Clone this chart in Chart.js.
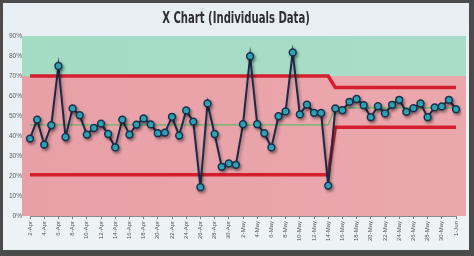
<!DOCTYPE html>
<html>
<head>
<meta charset="utf-8">
<script src="https://cdn.jsdelivr.net/npm/chart.js@4.4.1/dist/chart.umd.min.js"></script>
<style>
  html, body { margin: 0; padding: 0; background: #4a4a4a; }
  #wrap { width: 474px; height: 256px; position: relative; }
  canvas { display: block; }
</style>
</head>
<body>
<div id="wrap"><canvas id="c" width="474" height="256"></canvas></div>
<script>
// ---- data ----
const dates = [
  "2-Apr","3-Apr","4-Apr","5-Apr","6-Apr","7-Apr","8-Apr","9-Apr","10-Apr","11-Apr",
  "12-Apr","13-Apr","14-Apr","15-Apr","16-Apr","17-Apr","18-Apr","19-Apr","20-Apr","21-Apr",
  "22-Apr","23-Apr","24-Apr","25-Apr","26-Apr","27-Apr","28-Apr","29-Apr","30-Apr","1-May",
  "2-May","3-May","4-May","5-May","6-May","7-May","8-May","9-May","10-May","11-May",
  "12-May","13-May","14-May","15-May","16-May","17-May","18-May","19-May","20-May","21-May",
  "22-May","23-May","24-May","25-May","26-May","27-May","28-May","29-May","30-May","31-May",
  "1-Jun"
];
const values = [
  38.7, 48.2, 35.7, 45.4, 75.0, 39.5, 53.8, 50.4, 40.7, 44.0,
  46.2, 41.0, 34.3, 48.2, 40.7, 45.7, 48.8, 45.8, 41.4, 41.7,
  49.6, 40.2, 52.8, 47.2, 14.4, 56.3, 41.0, 24.6, 26.3, 25.6,
  45.9, 79.9, 45.9, 41.4, 34.3, 49.9, 52.3, 81.8, 50.8, 55.7,
  51.6, 51.5, 15.2, 53.8, 52.9, 57.1, 58.5, 55.4, 49.4, 54.9,
  51.3, 55.6, 58.1, 52.1, 53.9, 56.3, 49.4, 54.3, 54.8, 58.1,
  53.4
];
const ucl = [
  70,70,70,70,70,70,70,70,70,70,
  70,70,70,70,70,70,70,70,70,70,
  70,70,70,70,70,70,70,70,70,70,
  70,70,70,70,70,70,70,70,70,70,
  70,70,70,64.2,64.2,64.2,64.2,64.2,64.2,64.2,
  64.2,64.2,64.2,64.2,64.2,64.2,64.2,64.2,64.2,64.2,
  64.2
];
const centerLine = [
  45.6,45.6,45.6,45.6,45.6,45.6,45.6,45.6,45.6,45.6,
  45.6,45.6,45.6,45.6,45.6,45.6,45.6,45.6,45.6,45.6,
  45.6,45.6,45.6,45.6,45.6,45.6,45.6,45.6,45.6,45.6,
  45.6,45.6,45.6,45.6,45.6,45.6,45.6,45.6,45.6,45.6,
  45.6,45.6,45.6,54.1,54.1,54.1,54.1,54.1,54.1,54.1,
  54.1,54.1,54.1,54.1,54.1,54.1,54.1,54.1,54.1,54.1,
  54.1
];
const lcl = [
  20.6,20.6,20.6,20.6,20.6,20.6,20.6,20.6,20.6,20.6,
  20.6,20.6,20.6,20.6,20.6,20.6,20.6,20.6,20.6,20.6,
  20.6,20.6,20.6,20.6,20.6,20.6,20.6,20.6,20.6,20.6,
  20.6,20.6,20.6,20.6,20.6,20.6,20.6,20.6,20.6,20.6,
  20.6,20.6,20.6,44.4,44.4,44.4,44.4,44.4,44.4,44.4,
  44.4,44.4,44.4,44.4,44.4,44.4,44.4,44.4,44.4,44.4,
  44.4
];
const yTicks = [0, 10, 20, 30, 40, 50, 60, 70, 80, 90];
const zoneSplit = 70;   // boundary between the red and green zones
const yMax = 90;
const titleText = "X Chart (Individuals Data)";

// ---- styling plugins ----
const framePlugin = {
  id: 'frame',
  beforeDraw(chart) {
    const ctx = chart.ctx;
    ctx.save();
    ctx.fillStyle = '#4b4b4b';
    ctx.fillRect(0, 0, chart.width, chart.height);
    const g = ctx.createLinearGradient(0, 3, 0, 250);
    g.addColorStop(0, '#e8eff4');
    g.addColorStop(1, '#edf2f5');
    ctx.fillStyle = g;
    ctx.fillRect(3, 3, 466, 247);
    ctx.restore();
  }
};

// condensed title (the reference uses a narrow display face)
const condensedTitle = {
  id: 'condensedTitle',
  afterDraw(chart, args, opts) {
    const ctx = chart.ctx;
    ctx.save();
    ctx.font = 'bold 16px "DejaVu Sans Condensed", "DejaVu Sans", sans-serif';
    ctx.fillStyle = '#2f2f33';
    ctx.textAlign = 'center';
    ctx.textBaseline = 'middle';
    ctx.translate(236, 19);
    ctx.scale(0.7, 1);
    ctx.fillText(opts.text, 0, 0);
    ctx.restore();
  }
};

const zonePlugin = {
  id: 'zones',
  beforeDatasetsDraw(chart) {
    const { ctx, chartArea, scales } = chart;
    const y = scales.y;
    const left = chartArea.left - 8;
    const right = chartArea.right + 10;
    const yTop = y.getPixelForValue(yMax);
    const ySplit = y.getPixelForValue(zoneSplit);
    const yBot = y.getPixelForValue(0);
    ctx.save();
    const gg = ctx.createLinearGradient(left, 0, right, 0);
    gg.addColorStop(0, '#a3dbc3');
    gg.addColorStop(1, '#a9ddc8');
    ctx.fillStyle = gg;
    ctx.fillRect(left, yTop, right - left, ySplit - yTop);
    const gr = ctx.createLinearGradient(left, 0, right, 0);
    gr.addColorStop(0, '#e8a0a7');
    gr.addColorStop(1, '#eaa8ad');
    ctx.fillStyle = gr;
    ctx.fillRect(left, ySplit, right - left, yBot - ySplit);
    ctx.restore();
  }
};

const shadowPlugin = {
  id: 'shadow',
  beforeDatasetDraw(chart, args) {
    if (args.index === 0) {
      const ctx = chart.ctx;
      ctx.save();
      ctx.shadowColor = 'rgba(0,0,0,0.35)';
      ctx.shadowBlur = 3;
      ctx.shadowOffsetX = 1.5;
      ctx.shadowOffsetY = 2;
    }
  },
  afterDatasetDraw(chart, args) {
    if (args.index === 0) chart.ctx.restore();
  }
};

new Chart(document.getElementById('c'), {
  type: 'line',
  data: {
    labels: dates,
    datasets: [
      {
        label: 'X',
        data: values,
        order: 0,
        borderColor: '#1b2a47',
        borderWidth: 2,
        tension: 0,
        pointRadius: 3.4,
        pointBorderWidth: 1.5,
        pointBackgroundColor: '#30b9cf',
        pointBorderColor: '#17304a'
      },
      {
        label: 'UCL',
        data: ucl,
        order: 1,
        borderColor: '#d4202c',
        borderWidth: 3.5,
        pointRadius: 0,
        tension: 0
      },
      {
        label: 'LCL',
        data: lcl,
        order: 1,
        borderColor: '#d4202c',
        borderWidth: 3.5,
        pointRadius: 0,
        tension: 0
      },
      {
        label: 'CL',
        data: centerLine,
        order: 2,
        borderColor: '#63b86a',
        borderWidth: 1.3,
        pointRadius: 0,
        tension: 0
      }
    ]
  },
  options: {
    responsive: false,
    animation: false,
    devicePixelRatio: 1,
    layout: { padding: { left: 6, right: 18, top: 36, bottom: 6 } },
    plugins: {
      legend: { display: false },
      tooltip: { enabled: false },
      title: { display: false, text: titleText },
      condensedTitle: { text: titleText }
    },
    scales: {
      x: {
        type: 'category',
        offset: false,
        afterFit(s) { s.height = 34; },
        border: { display: true, color: '#8a8a8a', width: 1 },
        grid: {
          drawOnChartArea: false,
          drawTicks: true,
          tickLength: 3,
          color: (c) => (c.index % 2 === 0 ? '#7a7a7a' : 'rgba(0,0,0,0)')
        },
        ticks: {
          autoSkip: false,
          maxRotation: 90,
          minRotation: 90,
          padding: 2,
          color: '#555',
          font: { family: 'Liberation Sans, Arial, sans-serif', size: 6 },
          callback(v, i) { return i % 2 === 0 ? dates[i] : ''; }
        }
      },
      y: {
        min: 0,
        max: yMax,
        afterFit(s) { s.width = 24; },
        afterBuildTicks(s) { s.ticks = yTicks.map(v => ({ value: v })); },
        border: { display: false },
        grid: { display: false, drawTicks: false },
        ticks: {
          padding: 8,
          color: '#5a5a5a',
          font: { family: 'Liberation Sans, Arial, sans-serif', size: 6.5 },
          callback(v) { return v + '%'; }
        }
      }
    }
  },
  plugins: [framePlugin, zonePlugin, shadowPlugin, condensedTitle]
});
</script>
</body>
</html>
